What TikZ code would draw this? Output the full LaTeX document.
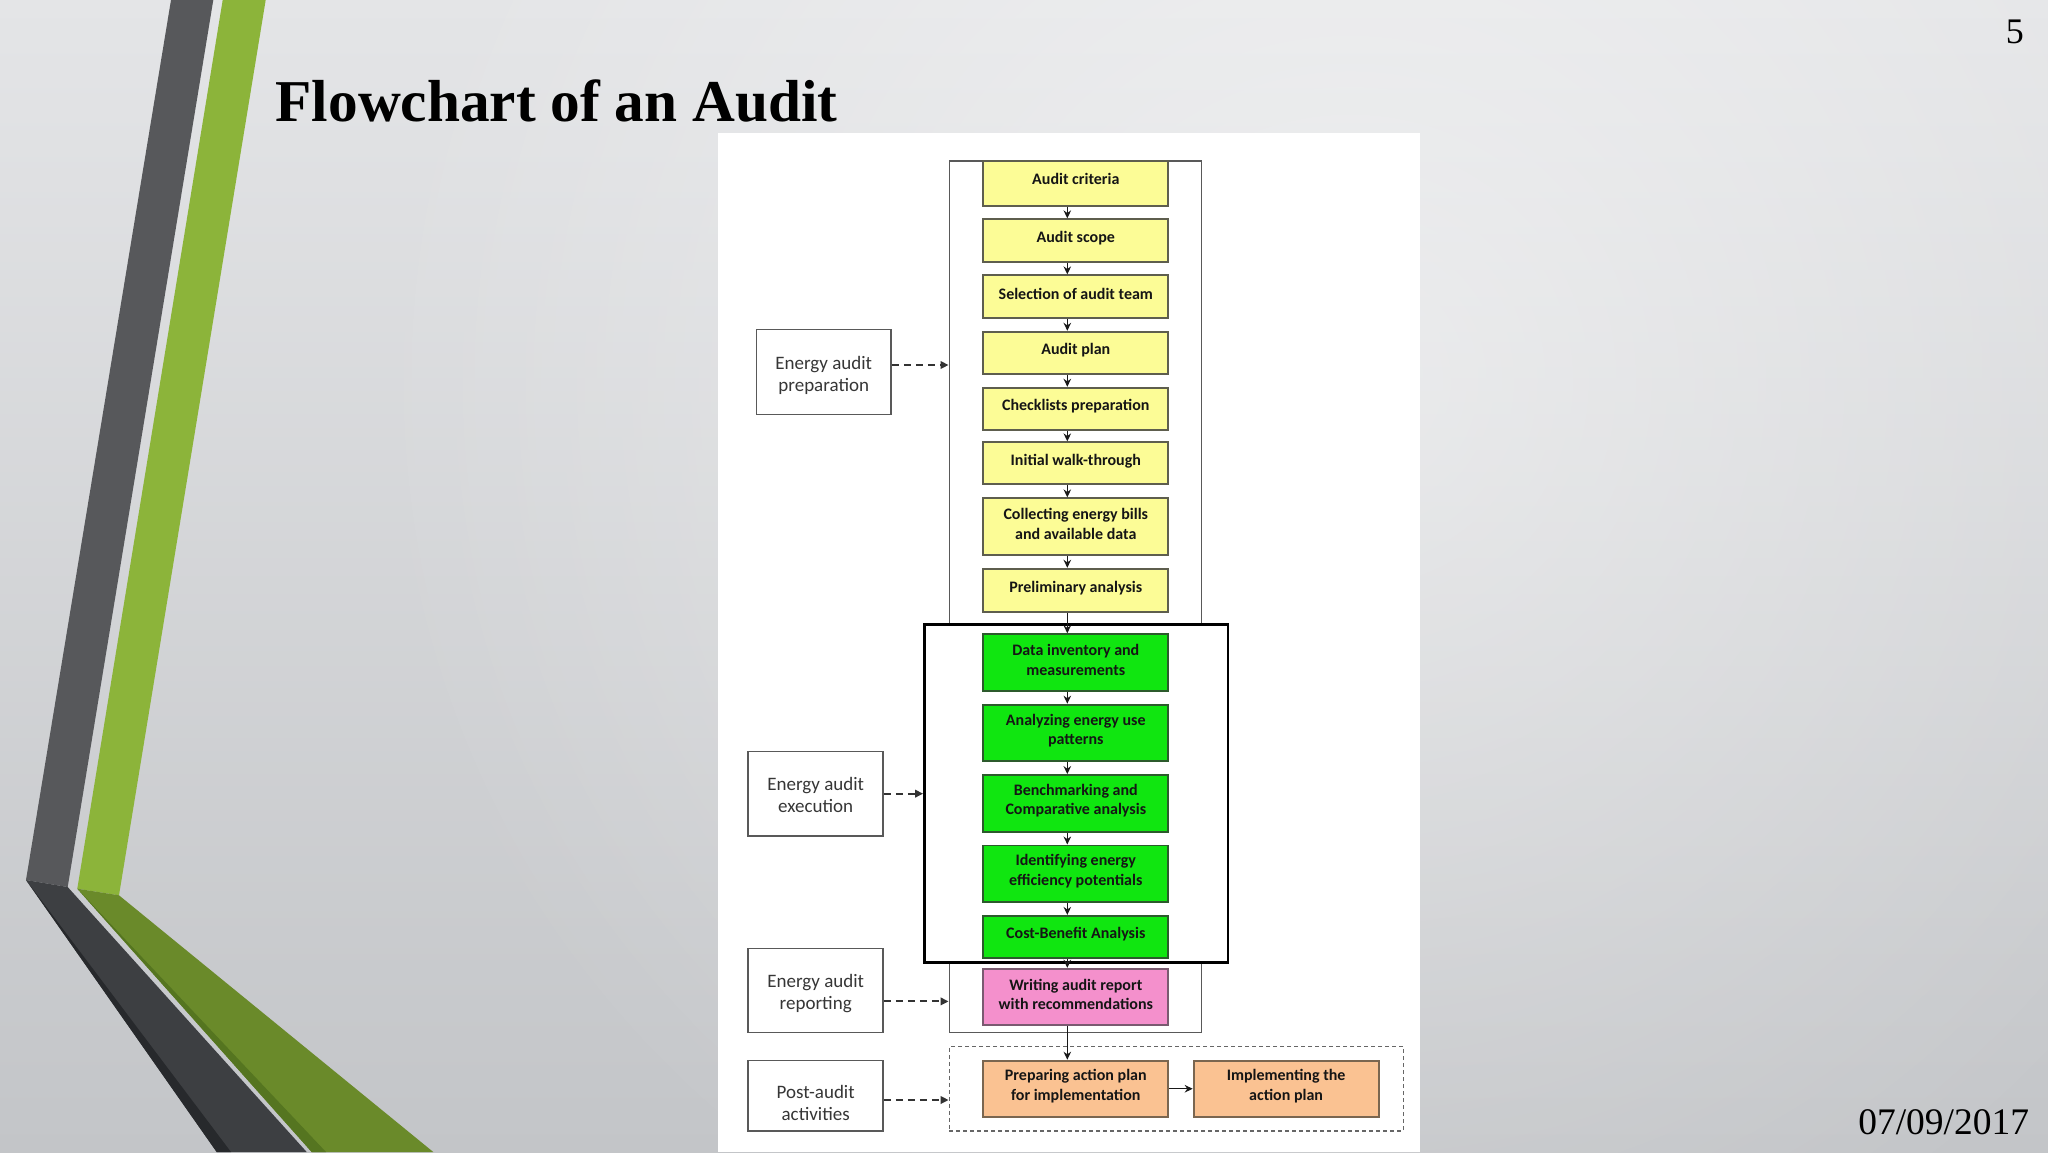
\documentclass[tikz,border=0pt]{standalone}
\usepackage{fontspec}
\setmainfont{Liberation Serif}
\newfontfamily\boxfont{Carlito}
\usetikzlibrary{arrows.meta,fadings}
\definecolor{bgTop}{HTML}{E4E5E7}
\definecolor{bgBot}{HTML}{C3C5C8}
\definecolor{darkUp}{HTML}{57585B}
\definecolor{darkLow}{HTML}{3D3F42}
\definecolor{darkEdge}{HTML}{27292C}
\definecolor{greenUp}{HTML}{8CB43A}
\definecolor{greenLow}{HTML}{6A8A2A}
\definecolor{greenEdge}{HTML}{557520}
\definecolor{yfill}{HTML}{FCFC96}
\definecolor{gfill}{HTML}{10E610}
\definecolor{pfill}{HTML}{F490CC}
\definecolor{ofill}{HTML}{FAC292}
\definecolor{ybd}{HTML}{5E5E4E}
\definecolor{gbd}{HTML}{2C5A2C}
\definecolor{pbd}{HTML}{7A5A70}
\definecolor{obd}{HTML}{7A6650}
\definecolor{boxtxt}{HTML}{151515}
\definecolor{labtxt}{HTML}{363636}
\tikzfading[name=softglow, inner color=transparent!0, outer color=transparent!100]
\begin{document}
\begin{tikzpicture}[x=1pt,y=-1pt,
  stepbox/.style={line width=1.8pt, minimum width=185pt, inner sep=0pt},
  boxlab/.style={inner sep=0pt, yshift=2.5pt, text=boxtxt, align=center,
    font=\boxfont\bfseries\fontsize{16}{19.5}\selectfont},
  ybox/.style={stepbox, draw=ybd, fill=yfill},
  gbox/.style={stepbox, draw=gbd, fill=gfill},
  pbox/.style={stepbox, draw=pbd, fill=pfill},
  obox/.style={stepbox, draw=obd, fill=ofill},
  labbox/.style={draw=black!65, line width=1.5pt, fill=white, minimum width=135pt, inner sep=0pt},
  labtext/.style={inner sep=0pt, text=labtxt, align=center, font=\boxfont\fontsize{19}{22}\selectfont},
  arr/.style={line width=1.4pt, draw=black!90, -{Stealth[length=8pt,width=7.5pt]}},
  darr/.style={line width=2pt, draw=black!80, dash pattern=on 7pt off 5pt, -{Triangle[length=8pt,width=7.5pt]}},
]
\useasboundingbox (0,0) rectangle (2048,1152);
% background
\shade[top color=bgTop, bottom color=bgBot] (0,0) rectangle (2048,1152);
\fill[white, opacity=0.45, path fading=softglow] (1350,380) circle (1000);
% decorative bands
\fill[darkUp] (171,0) -- (213.3,0) -- (67.7,887) -- (26,880) -- cycle;
\fill[darkLow] (26,880) -- (67.7,887) -- (306.7,1152) -- (216.7,1152) -- cycle;
\fill[darkEdge] (26,880) -- (231,1152) -- (216.7,1152) -- cycle;
\fill[greenUp] (222.7,0) -- (265.7,0) -- (119,895.3) -- (77.3,888.7) -- cycle;
\fill[greenLow] (77.3,888.7) -- (119,895.3) -- (433.3,1152) -- (311.7,1152) -- cycle;
\fill[greenEdge] (77.3,888.7) -- (326,1152) -- (311.7,1152) -- cycle;
% title and slide texts
\node[anchor=base west, inner sep=0pt, font=\bfseries\fontsize{59.3}{70}\selectfont] (title) at (275.5,121) {Flowchart of an Audit};
\node[anchor=base east, inner sep=0pt, font=\fontsize{36}{42}\selectfont] (pgno) at (2024,43.3) {5};
\node[anchor=base east, inner sep=0pt, font=\fontsize{37.5}{44}\selectfont] (date) at (2029.3,1134.3) {07/09/2017};
% white panel
\fill[white] (718.4,133) rectangle (1420,1152);
% frames
\node[draw=black!65, line width=1.5pt, minimum width=252.1pt, minimum height=871.4pt, inner sep=0pt] (prepF) at (1075.35,596.7) {};
\node[draw=black, fill=white, line width=2.8pt, minimum width=303.5pt, minimum height=338.1pt, inner sep=0pt] (execF) at (1076.25,793.65) {};
\node[draw=black!60, line width=1.4pt, dash pattern=on 4pt off 3pt, minimum width=454.1pt, minimum height=84.5pt, inner sep=0pt] (postF) at (1176.35,1088.75) {};
% yellow steps
\node[ybox, minimum height=44.7pt, label={[boxlab, yshift=1.5pt]center:Audit criteria}] (crit) at (1075.8,183.35) {};
\node[ybox, minimum height=42.7pt, label={[boxlab]center:Audit scope}] (scope) at (1075.8,240.65) {};
\node[ybox, minimum height=42.7pt, label={[boxlab]center:Selection of audit team}] (team) at (1075.8,296.65) {};
\node[ybox, minimum height=42.6pt, label={[boxlab]center:Audit plan}] (plan) at (1075.8,353) {};
\node[ybox, minimum height=42.6pt, label={[boxlab]center:Checklists preparation}] (check) at (1075.8,409) {};
\node[ybox, minimum height=42pt, label={[boxlab]center:Initial walk-through}] (walk) at (1075.8,463.3) {};
\node[ybox, minimum height=56.7pt, label={[boxlab]center:Collecting energy bills\\and available data}] (bills) at (1075.8,526.65) {};
\node[ybox, minimum height=43pt, label={[boxlab]center:Preliminary analysis}] (prelim) at (1075.8,590.2) {};
% green steps
\node[gbox, minimum height=56.6pt, label={[boxlab]center:Data inventory and\\measurements}] (data) at (1075.8,662.5) {};
\node[gbox, minimum height=56.7pt, label={[boxlab]center:Analyzing energy use\\patterns}] (anal) at (1075.8,732.95) {};
\node[gbox, minimum height=56.7pt, label={[boxlab]center:Benchmarking and\\Comparative analysis}] (bench) at (1075.8,803.35) {};
\node[gbox, minimum height=56.7pt, label={[boxlab]center:Identifying energy\\efficiency potentials}] (ident) at (1075.8,873.75) {};
\node[gbox, minimum height=42.3pt, label={[boxlab]center:Cost-Benefit Analysis}] (cost) at (1075.8,936.95) {};
% pink and orange
\node[pbox, minimum height=56.3pt, label={[boxlab]center:Writing audit report\\with recommendations}] (report) at (1075.8,996.85) {};
\node[obox, minimum height=56.3pt, label={[boxlab]center:Preparing action plan\\for implementation}] (action) at (1075.8,1088.75) {};
\node[obox, minimum height=56.3pt, label={[boxlab]center:Implementing the\\action plan}] (impl) at (1286.1,1088.75) {};
% left labels
\node[labbox, minimum width=134.5pt, minimum height=85pt, label={[labtext, yshift=-3.5pt]center:Energy audit\\preparation}] (prepL) at (823.75,371.8) {};
\node[labbox, minimum height=84.5pt, label={[labtext, yshift=-1.5pt]center:Energy audit\\execution}] (execL) at (815.7,793.65) {};
\node[labbox, minimum height=83.8pt, label={[labtext, yshift=-3pt]center:Energy audit\\reporting}] (repL) at (815.7,990.5) {};
\node[labbox, minimum height=70.4pt, label={[labtext, yshift=-7.5pt]center:Post-audit\\activities}] (postL) at (815.7,1095.8) {};
% arrows along the chain
\coordinate (ax) at (1067.3,0);
\foreach \a/\b in {crit/scope, scope/team, team/plan, plan/check, check/walk, walk/bills, bills/prelim,
  prelim/data, data/anal, anal/bench, bench/ident, ident/cost, cost/report, report/action}
  \draw[arr] (\a.south -| ax) -- (\b.north -| ax);
\draw[arr] (action.east) -- (impl.west);
% dashed arrows from labels
\coordinate (pa) at ([yshift=6.8pt]prepL.east);
\coordinate (ea) at (execL.east);
\coordinate (ra) at ([yshift=-10.9pt]repL.east);
\coordinate (qa) at ([yshift=-4.2pt]postL.east);
\draw[darr] (pa) -- (pa -| prepF.west);
\draw[darr] (ea) -- (ea -| execF.west);
\draw[darr] (ra) -- (ra -| prepF.west);
\draw[darr] (qa) -- (qa -| postF.west);
\end{tikzpicture}
\end{document}
